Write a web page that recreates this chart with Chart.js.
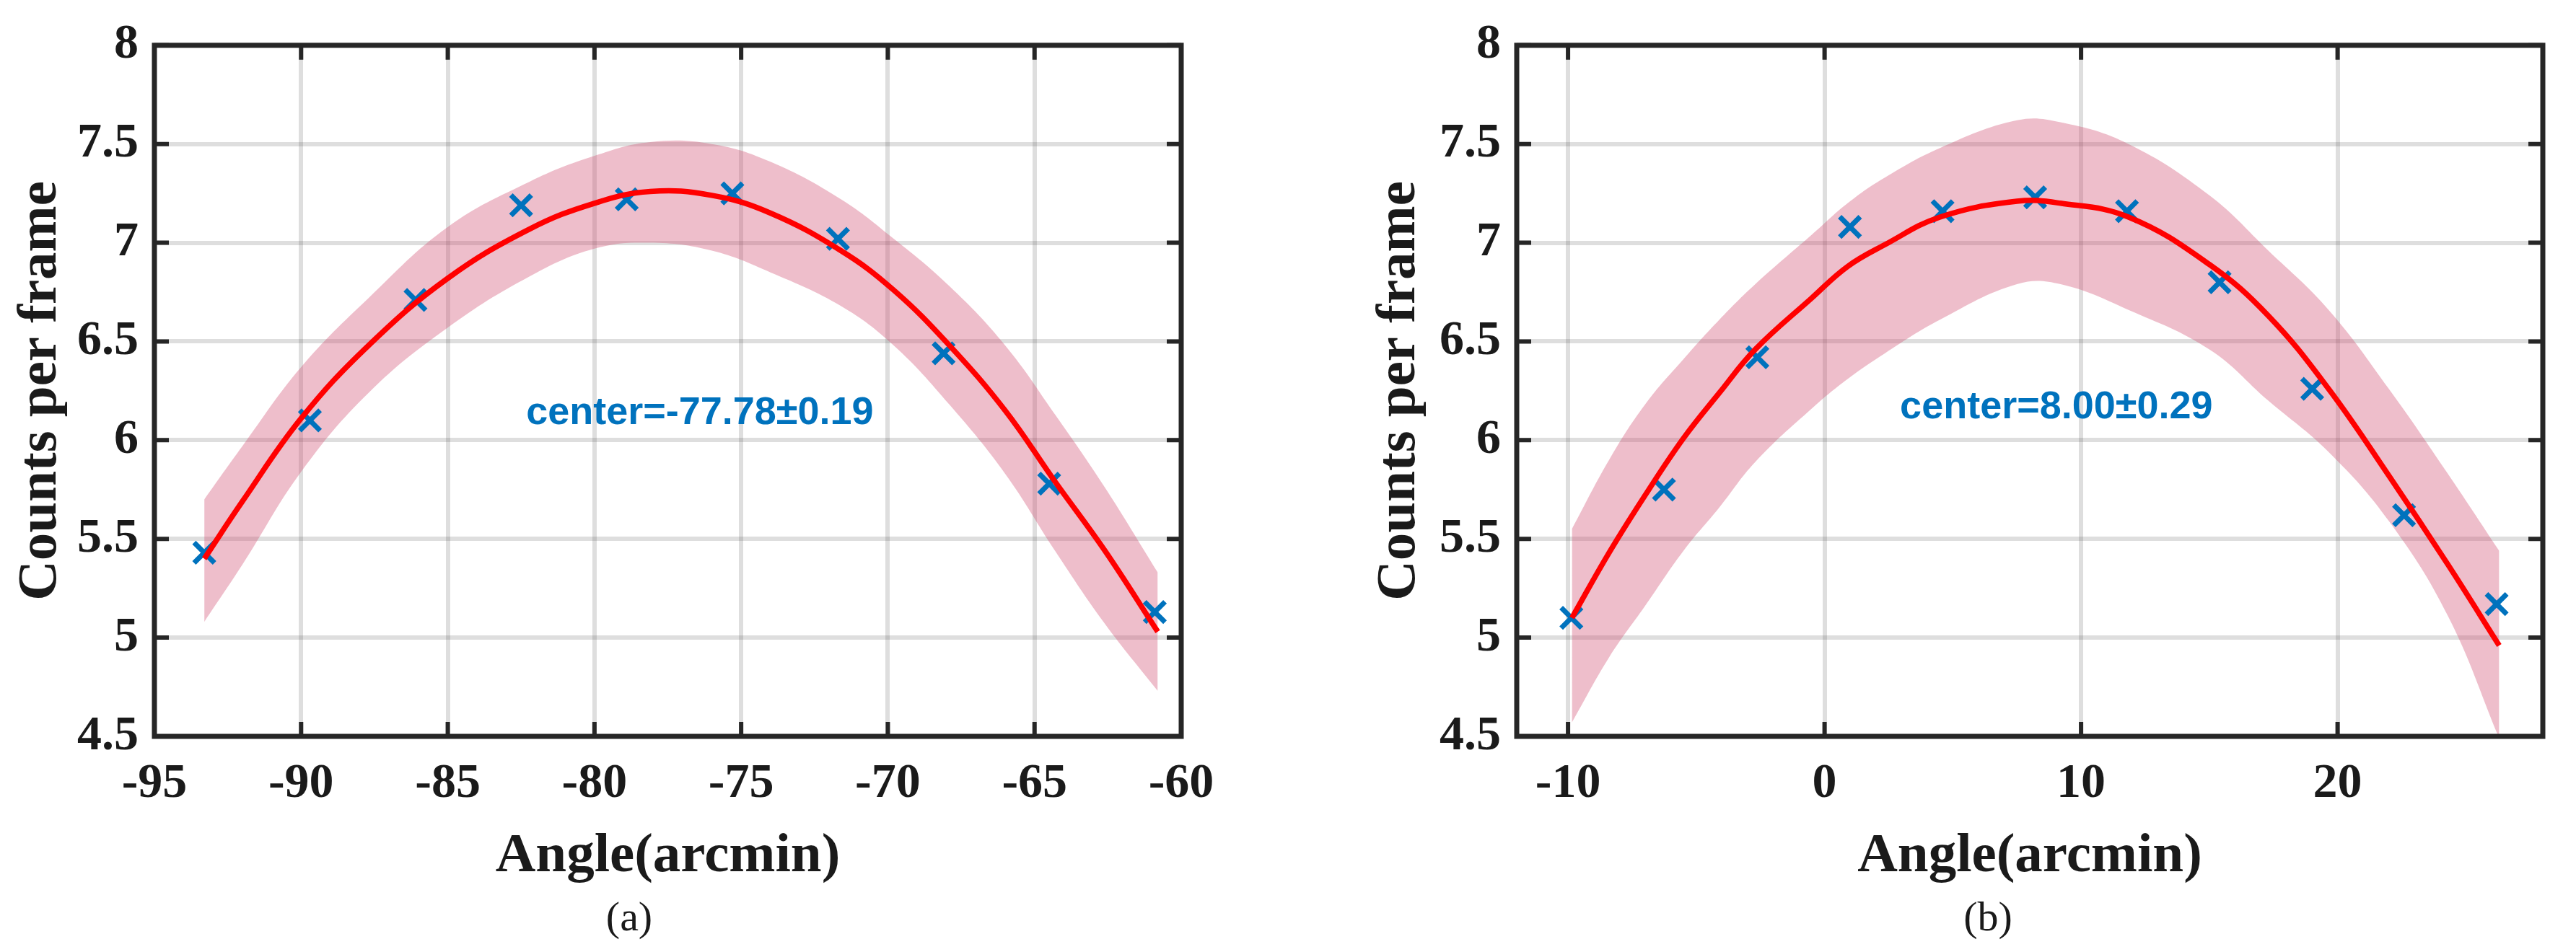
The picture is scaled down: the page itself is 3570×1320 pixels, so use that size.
<!DOCTYPE html>
<html>
<head>
<meta charset="utf-8">
<script src="https://cdn.jsdelivr.net/npm/chart.js@4.4.0/dist/chart.umd.min.js"></script>
<style>
  body { margin: 0; background: #fff; }
  .wrap { display: flex; width: 3570px; height: 1320px; }
  canvas { display: block; }
</style>
</head>
<body>
<div class="wrap">
  <canvas id="chartA" width="1785" height="1320"></canvas>
  <canvas id="chartB" width="1785" height="1320"></canvas>
</div>
<script>
// ---- panel (a) ----
const angleA  = [-93.3, -89.7, -86.1, -82.5, -78.9, -75.3, -71.7, -68.1, -64.5, -60.9];
const countsA = [5.43, 6.10, 6.71, 7.19, 7.22, 7.25, 7.02, 6.44, 5.78, 5.13];
const fitXA   = [-93.3, -92.0, -90.0, -87.7, -85.0, -82.2, -80.0, -78.1, -76.0, -74.0, -71.6, -69.8, -67.9, -66.0, -64.3, -62.6, -60.8];
const fitA    = [5.40, 5.69, 6.11, 6.48, 6.82, 7.07, 7.20, 7.26, 7.24, 7.15, 6.96, 6.76, 6.48, 6.15, 5.79, 5.44, 5.03];
const upperA  = [5.70, 5.97, 6.37, 6.72, 7.08, 7.31, 7.44, 7.51, 7.50, 7.41, 7.22, 7.02, 6.78, 6.48, 6.13, 5.76, 5.33];
const lowerA  = [5.08, 5.37, 5.84, 6.24, 6.57, 6.83, 6.97, 7.00, 6.96, 6.85, 6.68, 6.48, 6.18, 5.83, 5.44, 5.07, 4.73];
const xTickValsA = [-95, -90, -85, -80, -75, -70, -65, -60];
const xRangeA = [-95, -60];
const labelA  = 'center=-77.78\u00b10.19';
const labelPosA = { x: -82.33, y: 6.08 };

// ---- panel (b) ----
const angleB  = [-9.87, -6.26, -2.62, 0.99, 4.60, 8.21, 11.79, 15.40, 19.01, 22.59, 26.20];
const countsB = [5.10, 5.75, 6.42, 7.08, 7.16, 7.23, 7.16, 6.80, 6.26, 5.62, 5.17];
const fitXB   = [-9.85, -8.4, -7.0, -5.5, -4.1, -2.7, -0.5, 0.9, 2.35, 4.5, 7.5, 9.2, 11.85, 15.0, 17.3, 19.65, 22.0, 24.3, 26.3];
const fitB    = [5.10, 5.43, 5.72, 6.01, 6.24, 6.46, 6.72, 6.88, 6.99, 7.13, 7.21, 7.20, 7.13, 6.89, 6.63, 6.26, 5.82, 5.37, 4.96];
const upperB  = [5.55, 5.90, 6.18, 6.41, 6.61, 6.79, 7.04, 7.20, 7.33, 7.48, 7.62, 7.61, 7.50, 7.24, 6.96, 6.66, 6.26, 5.83, 5.44];
const lowerB  = [4.57, 4.90, 5.16, 5.44, 5.66, 5.89, 6.16, 6.31, 6.44, 6.61, 6.79, 6.79, 6.66, 6.46, 6.20, 5.94, 5.59, 5.11, 4.49];
const xTickValsB = [-10, 0, 10, 20];
const xRangeB = [-12, 28];
const labelB  = 'center=8.00\u00b10.29';
const labelPosB = { x: 2.94, y: 6.11 };

const yTickVals = [4.5, 5, 5.5, 6, 6.5, 7, 7.5, 8];

const SERIF = "'Liberation Serif', 'Times New Roman', serif";
const SANS = "'Liberation Sans', Arial, sans-serif";
const INK = '#262626';

const pts = (xs, ys) => xs.map((x, i) => ({ x: x, y: ys[i] }));

// frame, inward ticks, titles, annotation
const decor = {
    id: 'decor',
    afterDatasetsDraw(chart, args, o) {
        const { ctx, scales: { x, y } } = chart;
        ctx.save();
        ctx.font = `bold 54px ${SANS}`;
        ctx.fillStyle = '#0072BD';
        ctx.textAlign = 'left';
        ctx.textBaseline = 'alphabetic';
        ctx.fillText(o.label, x.getPixelForValue(o.labelPos.x), y.getPixelForValue(o.labelPos.y));
        ctx.restore();
    },
    afterDraw(chart, args, o) {
        const { ctx, chartArea: a, scales: { x, y } } = chart;
        ctx.save();
        ctx.strokeStyle = INK;
        ctx.lineWidth = 6;
        ctx.beginPath();
        x.ticks.forEach(t => {
            const px = x.getPixelForValue(t.value);
            ctx.moveTo(px, a.bottom); ctx.lineTo(px, a.bottom - 20);
            ctx.moveTo(px, a.top); ctx.lineTo(px, a.top + 20);
        });
        y.ticks.forEach(t => {
            const py = y.getPixelForValue(t.value);
            ctx.moveTo(a.left, py); ctx.lineTo(a.left + 20, py);
            ctx.moveTo(a.right, py); ctx.lineTo(a.right - 20, py);
        });
        ctx.stroke();
        ctx.lineWidth = 7;
        ctx.strokeRect(a.left, a.top, a.right - a.left, a.bottom - a.top);

        ctx.fillStyle = '#1a1a1a';
        ctx.font = `bold 77px ${SERIF}`;
        ctx.textAlign = 'center';
        ctx.textBaseline = 'alphabetic';
        ctx.fillText('Angle(arcmin)', (a.left + a.right) / 2, 1208);

        ctx.save();
        ctx.translate(a.left - o.yTitleGap, (a.top + a.bottom) / 2);
        ctx.rotate(-Math.PI / 2);
        ctx.textBaseline = 'middle';
        ctx.fillText('Counts per frame', 0, 0);
        ctx.restore();

        ctx.font = `58px ${SERIF}`;
        ctx.fillText(o.caption, o.captionX, 1290);
        ctx.restore();
    }
};

function makeChart(id, d) {
    const left = d.plotLeft, right = d.plotRight;
    const curve = { pointRadius: 0, tension: 0.4 };
    return new Chart(document.getElementById(id).getContext('2d'), {
        type: 'line',
        data: {
            datasets: [
                Object.assign({
                    data: pts(d.fx, d.up),
                    borderWidth: 0,
                    borderColor: 'rgba(0,0,0,0)',
                    fill: '+1',
                    backgroundColor: 'rgba(206, 69, 106, 0.35)',
                    order: 3
                }, curve),
                Object.assign({
                    data: pts(d.fx, d.lo),
                    borderWidth: 0,
                    borderColor: 'rgba(0,0,0,0)',
                    fill: false,
                    order: 3
                }, curve),
                {
                    data: pts(d.px, d.py),
                    showLine: false,
                    pointStyle: 'crossRot',
                    pointRadius: 20,
                    pointBorderWidth: 7,
                    borderColor: '#0072BD',
                    pointBorderColor: '#0072BD',
                    order: 2
                },
                Object.assign({
                    data: pts(d.fx, d.fit),
                    borderColor: '#FF0000',
                    borderWidth: 7.5,
                    fill: false,
                    order: 1
                }, curve)
            ]
        },
        options: {
            responsive: false,
            animation: false,
            layout: { padding: { top: 58, right: 1785 - right, bottom: 0, left: 0 } },
            plugins: {
                legend: { display: false },
                tooltip: { enabled: false },
                decor: {
                    label: d.label,
                    labelPos: d.labelPos,
                    caption: d.caption,
                    captionX: d.captionX,
                    yTitleGap: d.yTitleGap
                }
            },
            scales: {
                x: {
                    type: 'linear',
                    min: d.xr[0],
                    max: d.xr[1],
                    afterFit(scale) { scale.height = 299; },
                    afterBuildTicks(scale) { scale.ticks = d.xt.map(v => ({ value: v })); },
                    ticks: {
                        padding: 26,
                        color: '#1a1a1a',
                        font: { family: SERIF, size: 68, weight: 'bold' },
                        callback: v => String(v)
                    },
                    grid: { color: 'rgba(0,0,0,0.13)', lineWidth: 6, drawTicks: false },
                    border: { display: false }
                },
                y: {
                    min: yTickVals[0],
                    max: yTickVals[yTickVals.length - 1],
                    afterFit(scale) { scale.width = left; },
                    afterBuildTicks(scale) { scale.ticks = yTickVals.map(v => ({ value: v })); },
                    ticks: {
                        padding: 22,
                        color: '#1a1a1a',
                        font: { family: SERIF, size: 68, weight: 'bold' },
                        callback: v => String(v)
                    },
                    grid: { color: 'rgba(0,0,0,0.13)', lineWidth: 6, drawTicks: false },
                    border: { display: false }
                }
            }
        },
        plugins: [decor]
    });
}

makeChart('chartA', {
    px: angleA, py: countsA, fx: fitXA, fit: fitA, up: upperA, lo: lowerA,
    xt: xTickValsA, xr: xRangeA, label: labelA, labelPos: labelPosA,
    plotLeft: 214, plotRight: 1637, yTitleGap: 157, caption: '(a)', captionX: 872
});
makeChart('chartB', {
    px: angleB, py: countsB, fx: fitXB, fit: fitB, up: upperB, lo: lowerB,
    xt: xTickValsB, xr: xRangeB, label: labelB, labelPos: labelPosB,
    plotLeft: 317, plotRight: 1739, yTitleGap: 162, caption: '(b)', captionX: 970
});
</script>
</body>
</html>
